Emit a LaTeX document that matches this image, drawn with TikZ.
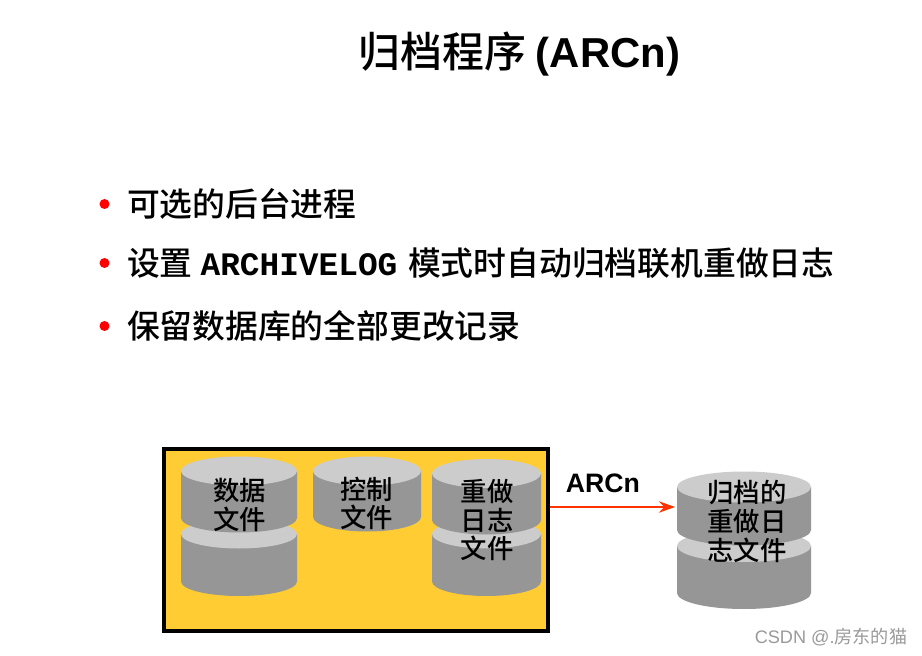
\documentclass[tikz,border=0pt]{standalone}
\usepackage{fontspec}
\usetikzlibrary{arrows.meta}
\setmainfont{Liberation Sans}
\newfontfamily\cjk{Noto Sans CJK SC}[BoldFont={Noto Sans CJK SC Bold}]
\newfontfamily\cjkmed{Noto Sans CJK SC Medium}
\newfontfamily\lat{Liberation Sans Bold}
\newfontfamily\cour{Liberation Mono Bold}
\definecolor{boxfill}{HTML}{FFCC33}
\definecolor{cyltop}{HTML}{CCCCCC}
\definecolor{cylside}{HTML}{969696}
\definecolor{mark}{HTML}{FF0000}
\definecolor{flow}{HTML}{FF3300}
\definecolor{wm}{HTML}{9A9A9A}
\newcommand{\cyl}[5]{% left, right, centre y of top ellipse, y of side end, ry
  \fill[cylside] (#1,#3) -- (#1,#4) arc[start angle=180,end angle=0,x radius={(#2-#1)/2},y radius=#5] -- (#2,#3) -- cycle;
  \fill[cyltop] ({(#1+#2)/2},#3) ellipse[x radius={(#2-#1)/2},y radius=#5];
}
\tikzset{
  txt/.style={inner sep=0pt,outer sep=0pt,text=black},
  title/.style={txt,anchor=center,font=\fontsize{31.4}{33}\cjkmed},
  bullettext/.style={txt,anchor=west,font=\fontsize{24.6}{26}\cjkmed},
  dot/.style={circle,fill=mark,draw=none,minimum size=7.5pt,inner sep=0pt},
  cyllabel/.style={txt,anchor=center,align=center,font=\fontsize{19.8}{21.6}\cjkmed},
  store/.style={draw=black,line width=3pt,fill=boxfill,inner sep=0pt,minimum width=288pt,minimum height=136.5pt},
  flowline/.style={draw=flow,line width=2pt,-{Stealth[length=12pt,width=8.5pt,inset=4pt]}},
}
\begin{document}
\begin{tikzpicture}[x=0.75pt,y=-0.75pt]
\useasboundingbox (0,0) rectangle (922,656);
\fill[white] (0,0) rectangle (922,656);

\node[title] (ttl) at (519.5,54) {归档程序 {\lat\fontsize{31.4}{33}\selectfont (ARCn)}};

\node[dot] (d1) at (104.5,204) {};
\node[dot] (d2) at (104.5,263) {};
\node[dot] (d3) at (104.5,326) {};
\node[bullettext] (b1) at (127,204) {可选的后台进程};
\node[bullettext] (b2) at (127,263) {设置\hspace{6pt}{\cour\fontsize{24.6}{26}\selectfont ARCHIVELOG}\hspace{8pt}模式时自动归档联机重做日志};
\node[bullettext] (b3) at (127,326) {保留数据库的全部更改记录};

\node[store] (box) at (356,540) {};

\cyl{181}{297}{534}{581.5}{14.5}
\cyl{181}{297}{471}{518}{14.5}
\cyl{313}{421}{471}{517}{14.5}
\cyl{432}{541}{534}{581.5}{14.5}
\cyl{432}{541}{473.5}{520}{14.5}
\cyl{677}{811}{546}{593}{16}
\cyl{677}{811}{487}{530}{15.5}

\node[cyllabel] (l1) at (239.5,505) {数据\\文件};
\node[cyllabel] (l2) at (366.5,503.5) {控制\\文件};
\node[cyllabel] (l3) at (487,520) {重做\\日志\\文件};
\node[cyllabel] (l4) at (747,521.5) {归档的\\重做日\\志文件};

\node[txt,anchor=center,font=\fontsize{20}{22}\lat] (arc) at (603,483) {ARCn};
\coordinate (arcend) at (675,507);
\draw[flowline] (box.east |- arcend) -- (arcend);

\node[txt,anchor=center,text=wm,font=\fontsize{13.6}{15}\selectfont] (wmk) at (831,637) {CSDN @.{\cjk 房东的猫}};
\end{tikzpicture}
\end{document}
